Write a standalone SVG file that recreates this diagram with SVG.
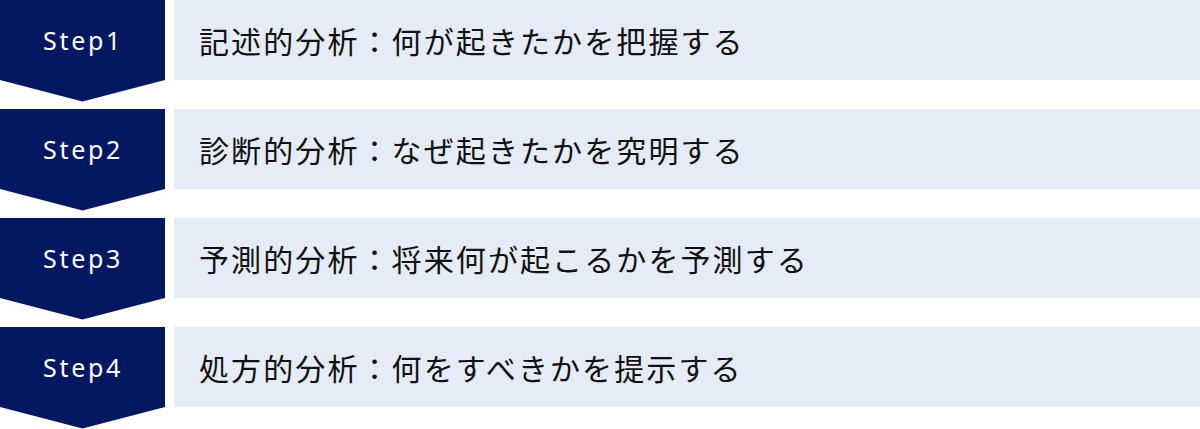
<svg xmlns="http://www.w3.org/2000/svg" width="1200" height="429" viewBox="0 0 1200 429">
<style>
.step{fill:#041862}
.box{fill:#E6EBF8}
.st{font-family:"Noto Sans","Liberation Sans",sans-serif;font-size:25px;fill:#ffffff;letter-spacing:2.7px;text-anchor:middle;dominant-baseline:central}
.tx{font-family:"Noto Sans CJK JP","Noto Sans",sans-serif;font-size:30px;fill:#111111;letter-spacing:2.1px;dominant-baseline:central}
</style>
<rect width="1200" height="429" fill="#ffffff"/>
<g id="row1">
<polygon class="step" points="0,0 165,0 165,80 82.5,101.5 0,80"/>
<rect class="box" x="174" y="0" width="1026" height="80"/>
<text class="st" x="83" y="40">Step1</text>
<text class="tx" x="199" y="40">記述的分析：何が起きたかを把握する</text>
</g>
<g id="row2">
<polygon class="step" points="0,109 165,109 165,189 82.5,210.5 0,189"/>
<rect class="box" x="174" y="109" width="1026" height="80"/>
<text class="st" x="83" y="149">Step2</text>
<text class="tx" x="199" y="149">診断的分析：なぜ起きたかを究明する</text>
</g>
<g id="row3">
<polygon class="step" points="0,218 165,218 165,298 82.5,319.5 0,298"/>
<rect class="box" x="174" y="218" width="1026" height="80"/>
<text class="st" x="83" y="258">Step3</text>
<text class="tx" x="199" y="258">予測的分析：将来何が起こるかを予測する</text>
</g>
<g id="row4">
<polygon class="step" points="0,327 165,327 165,407 82.5,428.5 0,407"/>
<rect class="box" x="174" y="327" width="1026" height="80"/>
<text class="st" x="83" y="367">Step4</text>
<text class="tx" x="199" y="367">処方的分析：何をすべきかを提示する</text>
</g>
<g id="connectors"></g>
</svg>
